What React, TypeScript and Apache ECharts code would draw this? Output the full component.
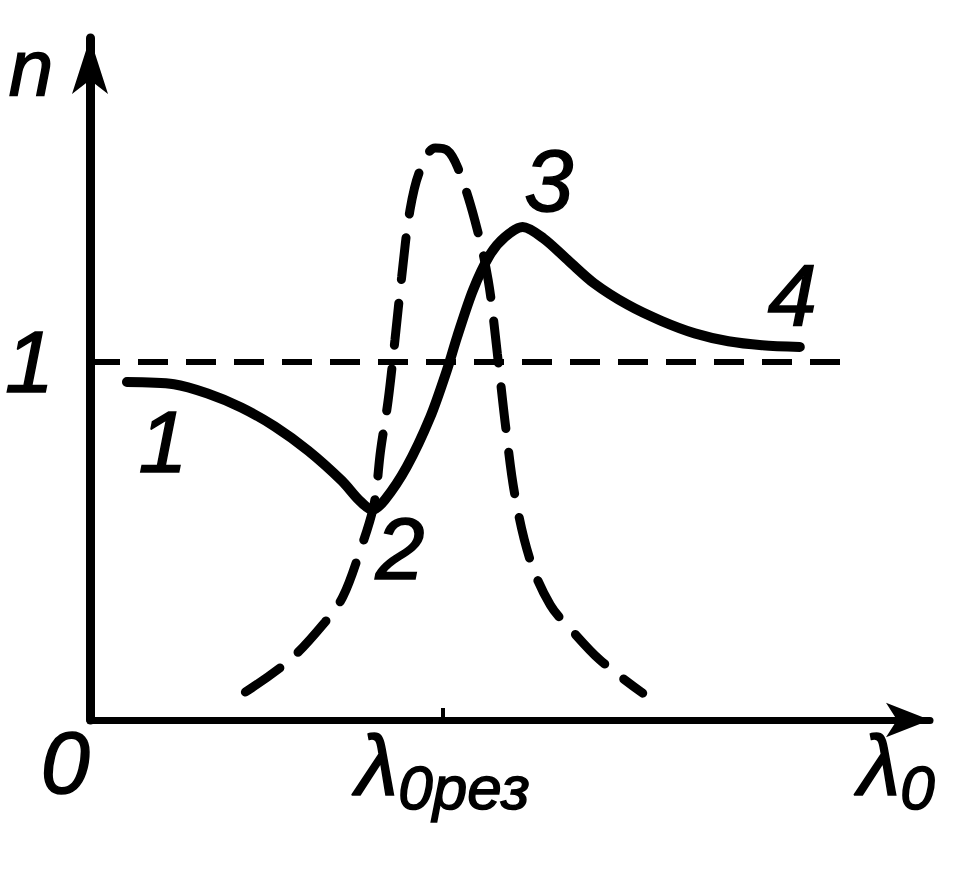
import React, { useEffect, useRef } from "react";
import * as echarts from "echarts";

// Curve of the refractive index n(λ0) (solid)
const dispersionX = [0.44, 1.0, 1.4, 1.8, 2.2, 2.6, 3.0, 3.2, 3.36, 3.51, 3.77, 4.05, 4.25, 4.37, 4.56, 4.76, 4.94, 5.15, 5.4, 5.7, 6.0, 6.4, 6.8, 7.2, 7.6, 8.0, 8.45];
const dispersionN = [0.944, 0.938, 0.912, 0.873, 0.82, 0.752, 0.668, 0.615, 0.587, 0.615, 0.707, 0.846, 0.978, 1.07, 1.201, 1.299, 1.349, 1.377, 1.345, 1.282, 1.22, 1.16, 1.115, 1.08, 1.058, 1.047, 1.042];

// Absorption curve (dashed)
const absorptionX = [1.85, 2.38, 2.8, 3.01, 3.21, 3.38, 3.46, 3.55, 3.63, 3.71, 3.81, 3.93, 4.11, 4.25, 4.38, 4.58, 4.74, 4.85, 4.95, 5.06, 5.24, 5.48, 5.71, 6.07, 6.58];
const absorptionY = [0.078, 0.168, 0.274, 0.344, 0.469, 0.601, 0.754, 0.894, 1.061, 1.237, 1.425, 1.536, 1.598, 1.592, 1.542, 1.397, 1.229, 1.022, 0.816, 0.626, 0.447, 0.321, 0.257, 0.168, 0.075];

// Reference level n = 1
const unityX = [0, 9.14];
const unityN = [1, 1];

// Point labels
const pointNames = ["1", "2", "3", "4"];
const pointX = [0.87, 3.69, 5.46, 8.36];
const pointY = [0.777, 0.48, 1.506, 1.187];

// Axis marks
const resonanceX = 4.2;
const lambdaLabelX = 9.6;
const yTickValues = [1];

const FONT = "Liberation Sans";

export default function App() {
  const ref = useRef<HTMLDivElement>(null);

  useEffect(() => {
    document.body.style.margin = "0";
    document.body.style.overflow = "hidden";
    if (!ref.current) return;
    const chart = echarts.init(ref.current, null, { renderer: "svg" });

    const zip = (xs: number[], ys: number[]) => xs.map((x, i) => [x, ys[i]]);

    const textBase = {
      fontFamily: FONT,
      fontStyle: "italic",
      fontWeight: "normal",
      fontSize: 88,
      color: "#000",
      opacity: 1,
      textBorderColor: "#000",
      textBorderWidth: 1.5,
    };

    chart.setOption({
      animation: false,
      backgroundColor: "#fff",
      grid: {
        left: 90,
        top: 38,
        width: 840,
        height: 682,
        containLabel: false,
        outerBoundsMode: "none",
      },
      xAxis: {
        type: "value",
        min: 0,
        max: 10,
        splitLine: { show: false },
        axisLine: {
          show: true,
          onZero: false,
          symbol: ["none", "arrow"],
          symbolSize: [26, 44],
          lineStyle: { color: "#000", width: 7 },
        },
        axisTick: {
          show: true,
          inside: true,
          length: 12,
          customValues: [resonanceX],
          lineStyle: { color: "#000", width: 4 },
        },
        axisLabel: {
          show: true,
          customValues: [resonanceX, lambdaLabelX],
          margin: 2,
          formatter: (v: number) =>
            Math.abs(v - resonanceX) < 1e-6 ? "{l|λ}{s|0рез}" : "{l|λ}{s|0}",
          rich: {
            l: { ...textBase, fontSize: 86, verticalAlign: "top" },
            s: { ...textBase, fontSize: 62, verticalAlign: "top", padding: [34, 0, 0, 0] },
          },
        },
      },
      yAxis: {
        type: "value",
        min: 0,
        max: 1.905,
        splitLine: { show: false },
        axisLine: {
          show: true,
          onZero: false,
          symbol: ["none", "arrow"],
          symbolSize: [27, 56],
          lineStyle: { color: "#000", width: 9 },
        },
        axisTick: { show: false },
        axisLabel: {
          show: true,
          customValues: yTickValues,
          margin: 36,
          ...textBase,
        },
      },
      graphic: [
        {
          type: "text",
          left: 8,
          top: 28,
          style: { text: "n", font: `italic 80px "${FONT}"`, fill: "#000", stroke: "#000", lineWidth: 1.5 },
        },
        {
          type: "text",
          left: 40,
          top: 718,
          style: { text: "0", font: `italic 88px "${FONT}"`, fill: "#000", stroke: "#000", lineWidth: 1.5 },
        },
      ],
      series: [
        {
          type: "line",
          data: zip(unityX, unityN),
          symbol: "none",
          silent: true,
          lineStyle: { color: "#000", width: 6, type: [30, 18] },
        },
        {
          type: "line",
          data: zip(absorptionX, absorptionY),
          symbol: "none",
          smooth: 0.35,
          silent: true,
          lineStyle: { color: "#000", width: 9, type: [42, 24], cap: "round" },
        },
        {
          type: "line",
          data: zip(dispersionX, dispersionN),
          symbol: "none",
          smooth: 0.3,
          silent: true,
          lineStyle: { color: "#000", width: 10, cap: "round", join: "round" },
        },
        {
          type: "scatter",
          data: pointNames.map((name, i) => ({ name, value: [pointX[i], pointY[i]] })),
          symbolSize: 0,
          silent: true,
          itemStyle: { opacity: 1, color: "#000" },
          label: {
            show: true,
            position: "inside",
            formatter: (p: any) => p.name,
            ...textBase,
          },
        },
      ],
    });

    return () => chart.dispose();
  }, []);

  return <div ref={ref} style={{ width: 972, height: 876 }} />;
}
